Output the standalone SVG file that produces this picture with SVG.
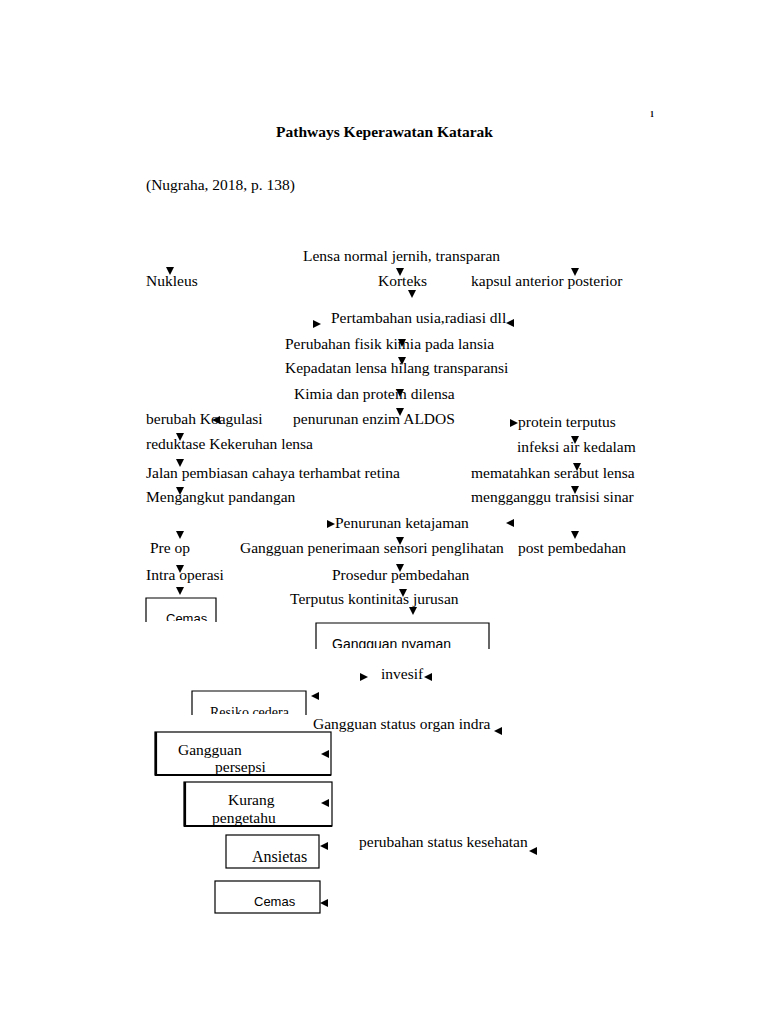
<svg xmlns="http://www.w3.org/2000/svg" xmlns:xlink="http://www.w3.org/1999/xlink" width="768" height="1024" viewBox="0 0 768 1024">
<style>
.t{font-family:"Liberation Serif","Times New Roman",serif;font-size:15.5px;fill:#000}
.b{font-weight:bold}
.s{font-family:"Liberation Sans",Arial,sans-serif;font-size:13px;fill:#000}
.bx{fill:none;stroke:#000;stroke-width:1.2}
.bk{fill:none;stroke:#000;stroke-width:2.2}
.ah{fill:#000}
</style>
<defs>
<path id="dn" class="ah" d="M-4,0 L4,0 L0,8 Z"/>
<path id="rt" class="ah" d="M0,-4 L8,0 L0,4 Z"/>
<path id="lt" class="ah" d="M8,-4 L0,0 L8,4 Z"/>
<clipPath id="c1"><rect x="146" y="598" width="70" height="23"/></clipPath>
<clipPath id="c2"><rect x="316" y="623" width="173" height="25"/></clipPath>
<clipPath id="c3"><rect x="192" y="691" width="114" height="23"/></clipPath>
<clipPath id="c4"><rect x="155" y="732" width="176" height="42"/></clipPath>
<clipPath id="c5"><rect x="184" y="782" width="148" height="43"/></clipPath>
</defs>
<rect width="768" height="1024" fill="#fff"/>

<g id="header">
<text x="650" y="117" class="t b" style="font-size:8px">1</text>
<text x="276" y="137" class="t b">Pathways Keperawatan Katarak</text>
<text x="146" y="190" class="t">(Nugraha, 2018, p. 138)</text>
</g>

<g id="n-lensa"><text x="303" y="261" class="t">Lensa normal jernih, transparan</text></g>
<g id="n-nukleus"><text x="146" y="286" class="t">Nukleus</text></g>
<g id="n-korteks"><text x="378" y="286" class="t">Korteks</text></g>
<g id="n-kapsul"><text x="471" y="286" class="t">kapsul anterior posterior</text></g>
<g id="n-pertambahan"><text x="331" y="323" class="t">Pertambahan usia,radiasi dll</text></g>
<g id="n-perubahan"><text x="285" y="349" class="t">Perubahan fisik kimia pada lansia</text></g>
<g id="n-kepadatan"><text x="285" y="373" class="t">Kepadatan lensa hilang transparansi</text></g>
<g id="n-kimia"><text x="294" y="399" class="t">Kimia dan protein dilensa</text></g>
<g id="n-berubah"><text x="146" y="424" class="t">berubah Koagulasi</text></g>
<g id="n-penurunan-enzim"><text x="293" y="424" class="t">penurunan enzim ALDOS</text></g>
<g id="n-protein"><text x="518" y="427" class="t">protein terputus</text></g>
<g id="n-reduktase"><text x="146" y="449" class="t">reduktase Kekeruhan lensa</text></g>
<g id="n-infeksi"><text x="517" y="452" class="t">infeksi air kedalam</text></g>
<g id="n-jalan"><text x="146" y="478" class="t">Jalan pembiasan cahaya terhambat retina</text></g>
<g id="n-mematahkan"><text x="471" y="478" class="t">mematahkan serabut lensa</text></g>
<g id="n-mengangkut"><text x="146" y="502" class="t">Mengangkut pandangan</text></g>
<g id="n-mengganggu"><text x="471" y="502" class="t">mengganggu transisi sinar</text></g>
<g id="n-ketajaman"><text x="335" y="528" class="t">Penurunan ketajaman</text></g>
<g id="n-preop"><text x="150" y="553" class="t">Pre op</text></g>
<g id="n-sensori"><text x="240" y="553" class="t">Gangguan penerimaan sensori penglihatan</text></g>
<g id="n-post"><text x="518" y="553" class="t">post pembedahan</text></g>
<g id="n-intra"><text x="146" y="580" class="t">Intra operasi</text></g>
<g id="n-prosedur"><text x="332" y="580" class="t">Prosedur pembedahan</text></g>
<g id="n-terputus"><text x="290" y="604" class="t">Terputus kontinitas jurusan</text></g>
<g id="n-invesif"><text x="381" y="679" class="t">invesif</text></g>
<g id="n-organ"><text x="313" y="729" class="t">Gangguan status organ indra</text></g>
<g id="n-status"><text x="359" y="847" class="t">perubahan status kesehatan</text></g>

<g id="box-cemas1">
<path class="bx" d="M146,622 V598 H216 V622"/>
<text x="166" y="623" class="s" clip-path="url(#c1)">Cemas</text>
</g>
<g id="box-nyaman">
<path class="bx" d="M316,649 V623 H489 V649"/>
<text x="332" y="649" class="s" style="font-size:14px" clip-path="url(#c2)">Gangguan nyaman</text>
</g>
<g id="box-resiko">
<path class="bx" d="M192,715 V691 H306 V715"/>
<text x="210" y="717" class="t" style="font-size:14px" clip-path="url(#c3)">Resiko cedera</text>
</g>
<g id="box-persepsi">
<rect class="bx" x="155" y="732" width="176" height="43"/>
<path class="bk" d="M156,732 V775 H331"/>
<text x="178" y="755" class="t" clip-path="url(#c4)">Gangguan</text>
<text x="215" y="772" class="t" clip-path="url(#c4)">persepsi</text>
</g>
<g id="box-pengetahuan">
<rect class="bx" x="184" y="782" width="148" height="44"/>
<path class="bk" d="M185,782 V826 H332"/>
<text x="228" y="805" class="t" clip-path="url(#c5)">Kurang</text>
<text x="212" y="823" class="t" clip-path="url(#c5)">pengetahu</text>
</g>
<g id="box-ansietas">
<rect class="bx" x="226" y="835" width="93" height="33"/>
<text x="252" y="862" class="t" style="font-size:16px">Ansietas</text>
</g>
<g id="box-cemas2">
<rect class="bx" x="215" y="881" width="105" height="32"/>
<text x="254" y="906" class="s">Cemas</text>
</g>

<g id="connectors">
<use xlink:href="#dn" x="170" y="267"/>
<use xlink:href="#dn" x="400" y="268"/>
<use xlink:href="#dn" x="575" y="268"/>
<use xlink:href="#dn" x="412" y="290"/>
<use xlink:href="#rt" x="313" y="324"/>
<use xlink:href="#lt" x="506" y="323"/>
<use xlink:href="#dn" x="402" y="339"/>
<use xlink:href="#dn" x="402" y="357"/>
<use xlink:href="#dn" x="400" y="389"/>
<use xlink:href="#dn" x="400" y="408"/>
<use xlink:href="#lt" x="212" y="420"/>
<use xlink:href="#rt" x="510" y="423"/>
<use xlink:href="#dn" x="180" y="433"/>
<use xlink:href="#dn" x="575" y="436"/>
<use xlink:href="#dn" x="180" y="459"/>
<use xlink:href="#dn" x="577" y="463"/>
<use xlink:href="#dn" x="180" y="487"/>
<use xlink:href="#dn" x="575" y="486"/>
<use xlink:href="#rt" x="327" y="524"/>
<use xlink:href="#lt" x="506" y="523"/>
<use xlink:href="#dn" x="180" y="531"/>
<use xlink:href="#dn" x="400" y="537"/>
<use xlink:href="#dn" x="575" y="531"/>
<use xlink:href="#dn" x="180" y="565"/>
<use xlink:href="#dn" x="400" y="564"/>
<use xlink:href="#dn" x="180" y="587"/>
<use xlink:href="#dn" x="403" y="589"/>
<use xlink:href="#dn" x="413" y="607"/>
<use xlink:href="#rt" x="360" y="677"/>
<use xlink:href="#lt" x="424" y="677"/>
<use xlink:href="#lt" x="311" y="696"/>
<use xlink:href="#lt" x="494" y="731"/>
<use xlink:href="#lt" x="321" y="754"/>
<use xlink:href="#lt" x="321" y="803"/>
<use xlink:href="#lt" x="320" y="846"/>
<use xlink:href="#lt" x="529" y="851"/>
<use xlink:href="#lt" x="320" y="903"/>
</g>
</svg>
